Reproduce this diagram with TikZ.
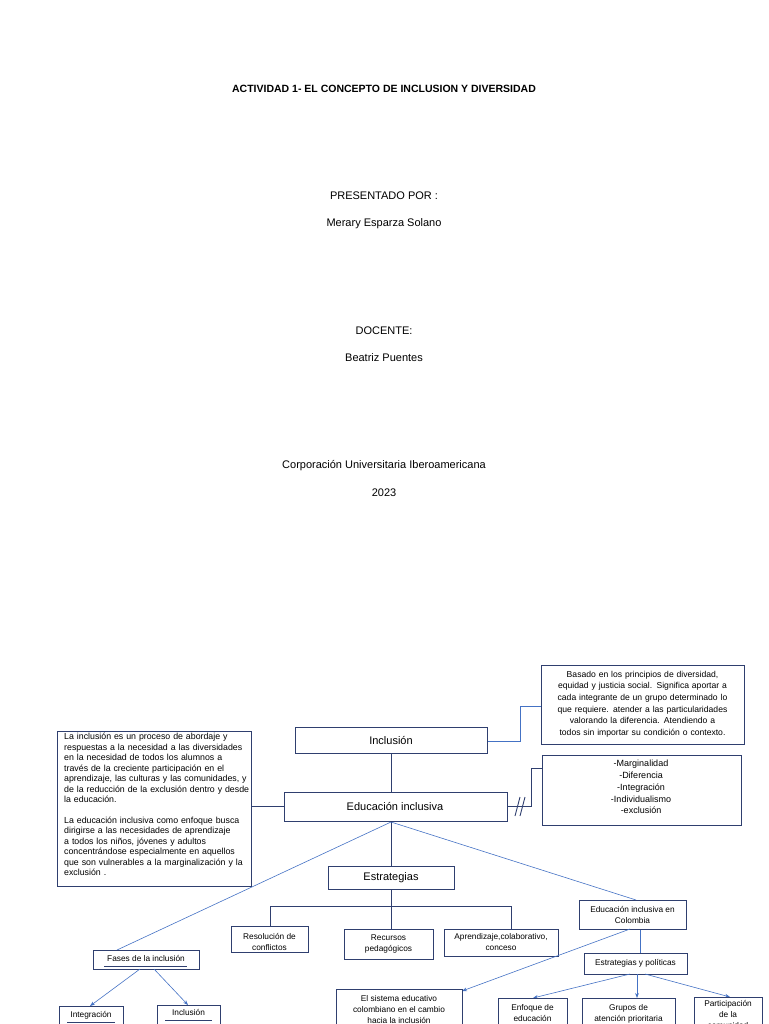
\documentclass[tikz,border=0pt]{standalone}
\usepackage{fontspec}
\setmainfont{Liberation Sans}
\usetikzlibrary{arrows.meta}
\definecolor{navy}{HTML}{2F3F6F}
\definecolor{lblue}{HTML}{4472C4}
\begin{document}
\hyphenpenalty=10000 \exhyphenpenalty=10000
\begin{tikzpicture}[x=1pt,y=-1pt,
  bx/.style={draw=navy,line width=0.9pt,fill=white},
  conn/.style={draw=navy,line width=0.9pt},
  bl/.style={draw=lblue,line width=0.6pt},
  ba/.style={draw=lblue,line width=0.6pt,-{Stealth[length=5pt]}},
  s/.style={align=center,font=\fontsize{8.3}{11}\selectfont},
  t/.style={font=\fontsize{11}{13}\selectfont}]
\useasboundingbox (0,0) rectangle (768,1024);
\clip (0,0) rectangle (768,1024);
\node[font=\fontsize{10.5}{12}\selectfont\bfseries] (title) at (384,89) {ACTIVIDAD 1- EL CONCEPTO DE INCLUSION Y DIVERSIDAD};
\node[t] (p) at (384,196) {PRESENTADO POR :};
\node[t] (m) at (384,224) {Merary Esparza Solano};
\node[t] (d) at (384,331) {DOCENTE:};
\node[t] (b) at (384,358) {Beatriz Puentes};
\node[t] (c) at (384,466) {Corporación Universitaria Iberoamericana};
\node[t] (y) at (384,493) {2023};
% connectors first
\draw[conn] (391,753) -- (391,792);
\draw[conn] (251,806) -- (284,806);
\draw[bl,line width=0.5pt] (487,741) -- (520,741) -- (520,706) -- (541,706);
\draw[conn] (507,806) -- (531,806) -- (531,768) -- (542,768);
\draw[conn] (515,816) -- (520,797) (520,816) -- (525,797);
\draw[conn] (391,822) -- (391,866);
\draw[bl] (391,822) -- (117,950);
\draw[bl] (391,822) -- (636,900);
\draw[conn] (391,889) -- (391,929);
\draw[conn] (270,926) -- (270,906) -- (511,906) -- (511,929);
\draw[bl] (640,929) -- (640,953);
% boxes
\draw[bx] (541,665) rectangle (744,744);
\node[s,text width=198pt,inner sep=0pt,font=\fontsize{8.6}{11.6}\selectfont] (bas) at (642.5,704) {Basado en los principios de diversidad, equidad y justicia social. Significa aportar a cada integrante de un grupo determinado lo que requiere. atender a las particularidades valorando la diferencia. Atendiendo a todos sin importar su condición o contexto.};
\draw[bx] (295,727) rectangle (487,753); \node[t] (inc) at (391,740) {Inclusión};
\draw[bx] (57,731) rectangle (251,886);
\node[align=left,text width=186pt,font=\fontsize{8.8}{10.5}\selectfont,anchor=north west,inner sep=0pt] (left) at (64,733) {La inclusión es un proceso de abordaje y respuestas a la necesidad a las diversidades en la necesidad de todos los alumnos a través de la creciente participación en el aprendizaje, las culturas y las comunidades, y de la reducción de la exclusión dentro y desde la educación.\\[10pt] La educación inclusiva como enfoque busca dirigirse a las necesidades de aprendizaje a todos los niños, jóvenes y adultos concentrándose especialmente en aquellos que son vulnerables a la marginalización y la exclusión .};
\draw[bx] (284,792) rectangle (507,821); \node[t] (ei) at (395,806) {Educación inclusiva};
\draw[bx] (542,755) rectangle (741,825);
\node[s,font=\fontsize{9}{11.8}\selectfont] (list) at (641,787) {-Marginalidad\\-Diferencia\\-Integración\\-Individualismo\\-exclusión};
\draw[bx] (328,866) rectangle (454,889); \node[t] (est) at (391,877.5) {Estrategias};
\draw[bx] (231,926) rectangle (308,952);
\begin{scope}\clip (231,926) rectangle (308,951);
\node[s] (res) at (269.5,942) {Resolución de\\conflictos};\end{scope}
\draw[bx] (344,929) rectangle (433,959); \node[s] (rec) at (388.5,944) {Recursos\\pedagógicos};
\draw[bx] (444,929) rectangle (558,956); \node[s] (apr) at (501,942.5) {Aprendizaje,colaborativo,\\conceso};
\draw[bx] (579,900) rectangle (686,929); \node[s] (col) at (632.5,914.5) {Educación inclusiva en\\Colombia};
\draw[ba] (630,929) -- (462,991);
\draw[bx] (584,953) rectangle (687,974); \node[s] (pol) at (635.5,963.5) {Estrategias y políticas};
\draw[ba] (630,974) -- (533,998);
\draw[ba] (637,974) -- (637,998);
\draw[ba] (645,974) -- (730,997);
\draw[bx] (336,989) rectangle (462,1030); \node[s,anchor=north] (sis) at (399,992) {El sistema educativo\\colombiano en el cambio\\hacia la inclusión};
\draw[bx] (498,998) rectangle (567,1030); \node[s,anchor=north] (enf) at (532.5,1001) {Enfoque de\\educación};
\draw[bx] (582,998) rectangle (675,1030); \node[s,anchor=north] (gru) at (628.5,1001) {Grupos de\\atención prioritaria};
\draw[bx] (694,997) rectangle (762,1030); \node[s,anchor=north] (par) at (728,997) {Participación\\de la\\comunidad};
\draw[bx] (93,950) rectangle (199,969); \node[s] (fas) at (146,958) {Fases de la inclusión};
\draw[navy,line width=0.6pt] (104,966) -- (187,966);
\draw[ba] (140,969) -- (90,1006);
\draw[ba] (154,969) -- (188,1005);
\draw[bx] (59,1006) rectangle (123,1030); \node[s] (int) at (91,1015) {Integración};
\draw[navy,line width=0.6pt] (67,1022) -- (115,1022);
\draw[bx] (157,1005) rectangle (220,1030); \node[s] (inc2) at (188.5,1012) {Inclusión};
\draw[navy,line width=0.6pt] (165,1020) -- (212,1020);
\end{tikzpicture}
\end{document}
